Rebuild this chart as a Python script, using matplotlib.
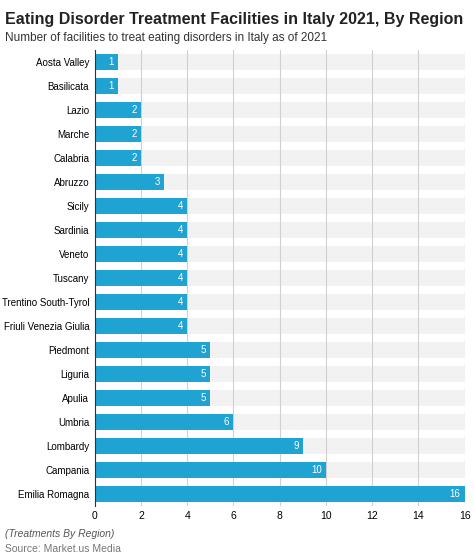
import matplotlib.pyplot as plt

plt.rcParams["font.family"] = ["Liberation Sans", "DejaVu Sans"]

regions = ["Aosta Valley", "Basilicata", "Lazio", "Marche", "Calabria", "Abruzzo",
           "Sicily", "Sardinia", "Veneto", "Tuscany", "Trentino South-Tyrol",
           "Friuli Venezia Giulia", "Piedmont", "Liguria", "Apulia", "Umbria",
           "Lombardy", "Campania", "Emilia Romagna"]
facilities = [1, 1, 2, 2, 2, 3, 4, 4, 4, 4, 4, 4, 5, 5, 5, 6, 9, 10, 16]
xticks = [0, 2, 4, 6, 8, 10, 12, 14, 16]

fig = plt.figure(figsize=(4.74, 5.59), dpi=100)
ax = fig.add_axes([0.2, 0.095, 0.78, 0.815])

y = list(range(len(regions)))
ax.barh(y, [16] * len(y), height=0.68, color="#f2f2f2", zorder=0)
ax.barh(y, facilities, height=0.68, color="#1ea3d2", zorder=2)
for yi, v in zip(y, facilities):
    ax.text(v - 0.18, yi, str(v), ha="right", va="center", color="white",
            fontsize=7, zorder=3)

ax.set_ylim(len(y) - 0.5, -0.5)
ax.set_xlim(0, 16)
ax.set_yticks(y)
ax.set_yticklabels(regions, fontsize=7)
ax.set_xticks(xticks)
ax.set_xticklabels([str(t) for t in xticks], fontsize=7.5)
ax.grid(axis="x", color="#d0d0d0", linewidth=0.8, zorder=1)
ax.set_axisbelow(True)
for s in ["top", "right", "bottom"]:
    ax.spines[s].set_visible(False)
ax.spines["left"].set_color("#333333")
ax.tick_params(axis="y", length=0, pad=4)
ax.tick_params(axis="x", length=0, pad=4)

fig.text(0.01, 0.978, "Eating Disorder Treatment Facilities in Italy 2021, By Region",
         fontsize=11.5, fontweight="bold", va="top", color="#222222")
fig.text(0.01, 0.942, "Number of facilities to treat eating disorders in Italy as of 2021",
         fontsize=8.5, va="top", color="#333333")
fig.text(0.01, 0.045, "(Treatments By Region)", fontsize=7.5, style="italic",
         color="#555555", va="center")
fig.text(0.01, 0.018, "Source: Market.us Media", fontsize=7.5, color="#777777",
         va="center")

fig.savefig("out.png", dpi=100)
